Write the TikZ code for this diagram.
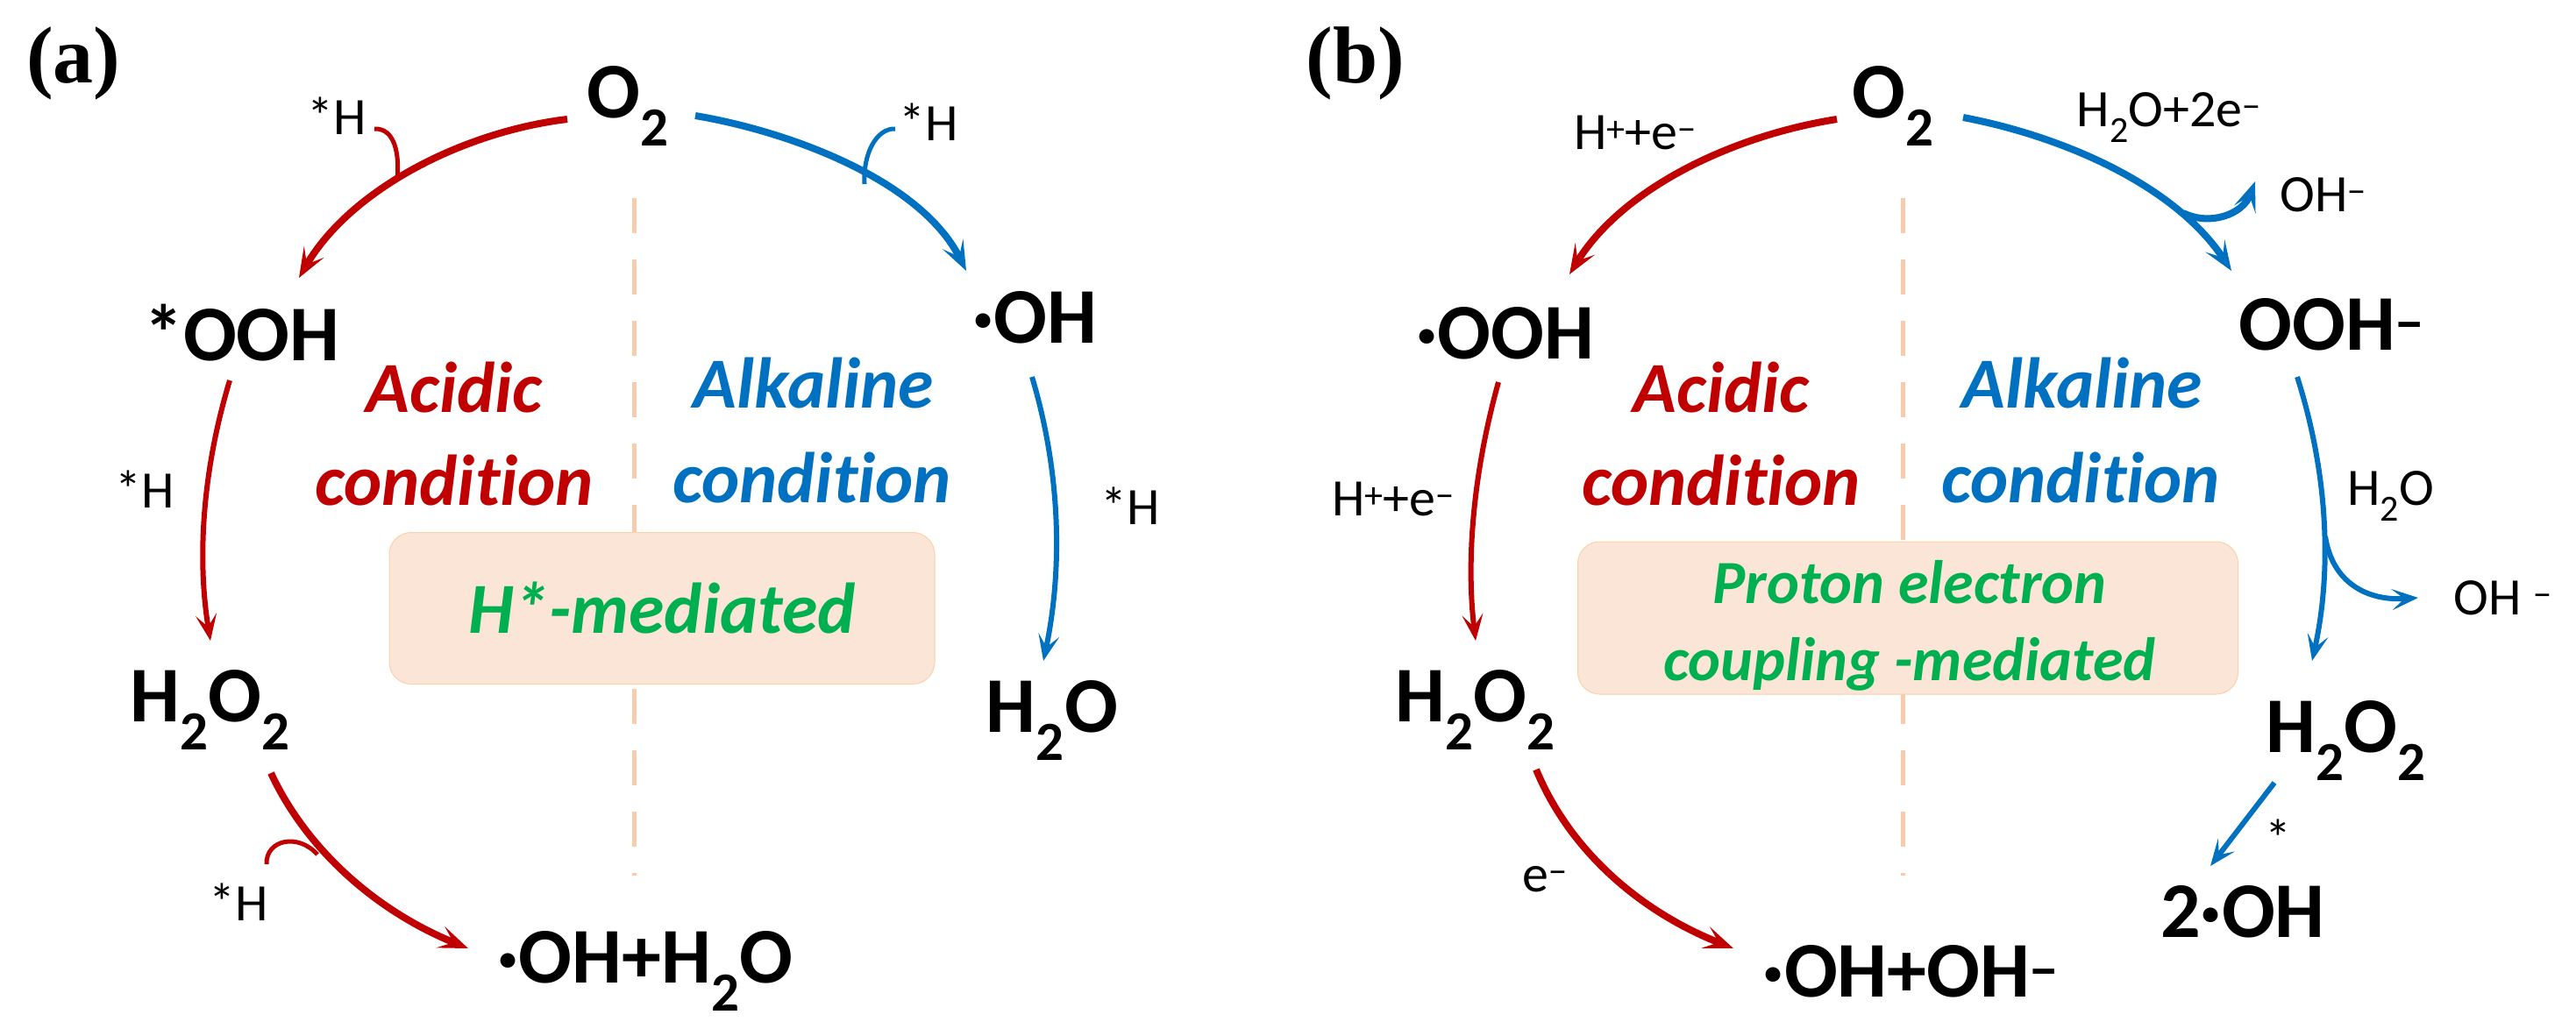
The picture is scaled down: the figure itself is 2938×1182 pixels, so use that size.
\documentclass[tikz,border=0pt]{standalone}
\usepackage{fontspec}
\setmainfont{Carlito}[RawFeature={-liga;-clig;-dlig}]
\newfontfamily\timesf{Liberation Serif}
\usetikzlibrary{arrows.meta}
\definecolor{cred}{HTML}{C00000}
\definecolor{cblue}{HTML}{0070C0}
\definecolor{cgreen}{HTML}{00B050}
\definecolor{cdash}{HTML}{F8CBAD}
\definecolor{cbox}{HTML}{FBE5D6}
\newcommand{\mn}{\textsuperscript{−}}
\begin{document}
\begin{tikzpicture}[x=1pt,y=-1pt,
  big/.style={font=\fontsize{90}{100}\selectfont\bfseries},
  sml/.style={font=\fontsize{60}{66}\selectfont},
  cond/.style={font=\fontsize{82}{90}\selectfont\bfseries\itshape},
  pl/.style={font=\fontsize{92}{100}\selectfont\timesf\bfseries},
  arr/.style={line width=8pt,-{Stealth[length=34pt,width=26pt,inset=16pt]}},
  arrt/.style={line width=6pt,-{Stealth[length=30pt,width=24pt,inset=14pt]}},
  hook/.style={line width=5pt},
  dline/.style={cdash,line width=5pt,dash pattern=on 40pt off 30pt},
  bx/.style={fill=cbox,draw=cbox!80!orange,line width=1pt,rounded corners=25pt}]
\useasboundingbox (0,0) rectangle (2938,1182);
% ---------------- panel a
\node[pl] (la) at (84,72) {(a)};
\draw[dline] (723,226) -- (723,999);
\node[bx,minimum width=622pt,minimum height=173pt] (boxa) at (755,694) {};
\node[font=\fontsize{82}{90}\selectfont\bfseries\itshape,text=cgreen] (ma) at (755,694) {H*-mediated};
\node[big] (o2a) at (716,121) {O\textsubscript{2}};
\node[big] (oohA) at (276,380) {*OOH};
\node[big] (ohA) at (1180,362) {·OH};
\node[big] (h2o2A) at (240,810) {H\textsubscript{2}O\textsubscript{2}};
\node[big] (h2oA) at (1200,822) {H\textsubscript{2}O};
\node[big] (fA) at (736,1108) {·OH+H\textsubscript{2}O};
\node[cond,text=cred] (acA) at (518,442) {Acidic};
\node[cond,text=cred] (acA2) at (518,548) {condition};
\node[cond,text=cblue] (alA) at (928,437) {Alkaline};
\node[cond,text=cblue] (alA2) at (926,545) {condition};
\node[sml] (h1) at (384,132) {*H};
\node[sml] (h2) at (1059,139) {*H};
\node[sml] (h3) at (165,558) {*H};
\node[sml] (h4) at (1289,577) {*H};
\node[sml] (h5) at (272,1029) {*H};
\coordinate (a1s) at (647,136); \coordinate (a1e) at (341,317);
\draw[arr,cred] (a1s) .. controls (530,150) and (400,215) .. (a1e);
\draw[hook,cred] (427,147) .. controls (450,146) and (456,175) .. (453,206);
\coordinate (b1s) at (793,132); \coordinate (b1e) at (1102,309);
\draw[arr,cblue] (b1s) .. controls (900,150) and (1050,205) .. (b1e);
\draw[hook,cblue] (1021,147) .. controls (1000,146) and (984,175) .. (986,210);
\draw[arrt,cred] (262,434) .. controls (230,540) and (225,640) .. (240,731);
\draw[arrt,cblue] (1177,430) .. controls (1210,540) and (1212,650) .. (1190,754);
\draw[arr,cred] (309,882) .. controls (350,970) and (430,1040) .. (534,1082);
\draw[hook,cred] (304,986) .. controls (303,958) and (340,950) .. (362,975);
% ---------------- panel b
\node[pl] (lb) at (1546,72) {(b)};
\draw[dline] (2170,226) -- (2170,999);
\node[bx,minimum width=753pt,minimum height=174pt] (boxb) at (2176,705) {};
\node[font=\fontsize{70}{78}\selectfont\bfseries\itshape,text=cgreen,align=center] (mb1) at (2178,664) {Proton electron};
\node[font=\fontsize{70}{78}\selectfont\bfseries\itshape,text=cgreen,align=center] (mb2) at (2178,758) {coupling -mediated};
\node[big] (o2b) at (2159,121) {O\textsubscript{2}};
\node[big] (oohB) at (1717,380) {·OOH};
\node[big] (oohmB) at (2659,370) {OOH\mn};
\node[big] (h2o2B) at (1683,810) {H\textsubscript{2}O\textsubscript{2}};
\node[big] (h2o2B2) at (2676,845) {H\textsubscript{2}O\textsubscript{2}};
\node[big] (ohB) at (2558,1040) {2·OH};
\node[big] (fB) at (2179,1108) {·OH+OH\mn};
\node[cond,text=cred] (acB) at (1963,442) {Acidic};
\node[cond,text=cred] (acB2) at (1963,548) {condition};
\node[cond,text=cblue] (alB) at (2375,437) {Alkaline};
\node[cond,text=cblue] (alB2) at (2373,545) {condition};
\node[sml] (e1) at (1865,151) {H\textsuperscript{+}+e\mn};
\node[sml] (e2) at (2474,134) {H\textsubscript{2}O+2e\mn};
\node[sml] (e3) at (2650,222) {OH\mn};
\node[sml] (e4) at (1589,569) {H\textsuperscript{+}+e\mn};
\node[sml] (e5) at (2727,566) {H\textsubscript{2}O};
\node[sml] (e6) at (2855,682) {OH \mn};
\node[sml] (e7) at (2598,956) {*};
\node[sml] (e8) at (1762,1003) {e\mn};
\draw[arr,cred] (2095,136) .. controls (1975,155) and (1850,215) .. (1790,313);
\draw[arr,cblue] (2239,134) .. controls (2350,155) and (2480,210) .. (2545,309);
\draw[arr,cblue] (2490,243) .. controls (2520,258) and (2558,245) .. (2572,207);
\draw[arrt,cred] (1709,436) .. controls (1680,540) and (1672,640) .. (1683,731);
\draw[arrt,cblue] (2620,430) .. controls (2655,540) and (2660,650) .. (2637,754);
\draw[arrt,cblue] (2652,612) .. controls (2660,665) and (2700,686) .. (2758,682);
\draw[arrt,cblue] (2594,893) -- (2521,988);
\draw[arr,cred] (1752,878) .. controls (1790,970) and (1870,1040) .. (1977,1082);
\end{tikzpicture}
\end{document}
